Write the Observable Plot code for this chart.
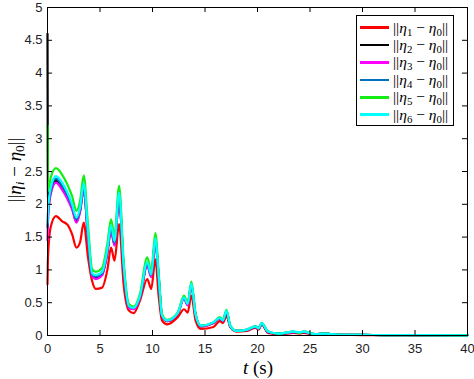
<!DOCTYPE html>
<html><head><meta charset="utf-8">
<script src="https://cdn.jsdelivr.net/npm/d3@7"></script>
<script src="https://cdn.jsdelivr.net/npm/@observablehq/plot@0.6"></script>
<style>
body{margin:0;background:#fff;}
#wrap{position:relative;width:474px;height:379px;overflow:hidden;}
#wrap svg{position:absolute;left:0;top:0;}
.serif{font-family:"Liberation Serif","DejaVu Serif",serif;color:#000;}
#ylab{position:absolute;left:15px;top:170px;transform:translate(-50%,-50%) rotate(-90deg);font-size:19px;white-space:nowrap;}
#xlab{position:absolute;left:258px;top:368px;transform:translate(-50%,-50%);font-size:19px;white-space:nowrap;}
#legend{position:absolute;left:356px;top:15px;width:98px;height:111px;border:1px solid #000;background:#fff;box-sizing:border-box;padding-top:3px;}
.row{height:17.4px;display:flex;align-items:center;}
.sw{width:29px;height:2.5px;margin-left:3px;margin-right:4px;flex:none;}
.lt{font-size:15.5px;white-space:nowrap;}
sub{font-size:70%;vertical-align:-0.25em;line-height:0;}
i{font-style:italic;}
</style></head><body><div id="wrap"></div>
<script>
const time = [0,0.05,0.3,0.8,1.4,1.9,2.35,2.75,3.1,3.45,3.85,4.25,4.6,5.2,5.7,6.05,6.38,6.82,7.25,7.75,8.2,8.8,9.5,9.88,10.27,10.6,10.9,11.4,12.4,13.0,13.35,13.7,14.1,14.6,15.8,16.4,16.7,17.05,17.4,18.0,19.0,19.8,20.1,20.4,21.0,22,23,23.4,24,24.4,25.5,26.5,27,28,30,32,35,40];
const eta1 = [0.78,1.2,1.65,1.82,1.74,1.69,1.54,1.34,1.42,1.72,1.2,0.83,0.71,0.73,1.0,1.34,1.14,1.70,0.78,0.38,0.34,0.53,0.86,0.71,1.16,0.58,0.23,0.17,0.28,0.40,0.35,0.61,0.23,0.10,0.13,0.22,0.19,0.30,0.13,0.06,0.07,0.12,0.09,0.17,0.04,0.02,0.03,0.04,0.03,0.04,0.01,0.02,0.01,0.01,0.005,0.005,0.003,0.002];
const eta2 = [4.6,2.0,2.18,2.36,2.24,2.10,1.94,1.74,1.90,2.24,1.52,0.91,0.87,0.93,1.27,1.62,1.39,2.10,1.03,0.43,0.41,0.58,1.08,0.90,1.44,0.85,0.30,0.22,0.33,0.57,0.47,0.77,0.31,0.14,0.19,0.26,0.22,0.36,0.14,0.07,0.08,0.13,0.10,0.18,0.05,0.03,0.04,0.05,0.04,0.05,0.02,0.03,0.02,0.01,0.01,0.005,0.004,0.003];
const eta3 = [1.45,1.75,2.15,2.33,2.22,2.08,1.92,1.72,1.88,2.22,1.50,0.90,0.86,0.92,1.25,1.60,1.37,2.08,1.02,0.42,0.40,0.57,1.07,0.89,1.42,0.84,0.30,0.22,0.33,0.56,0.46,0.76,0.31,0.14,0.19,0.26,0.22,0.36,0.14,0.07,0.08,0.13,0.10,0.18,0.05,0.03,0.04,0.05,0.04,0.05,0.02,0.03,0.02,0.01,0.01,0.005,0.004,0.003];
const eta4 = [1.65,1.85,2.2,2.39,2.28,2.14,1.97,1.77,1.92,2.28,1.56,0.93,0.90,0.95,1.29,1.65,1.41,2.14,1.06,0.44,0.42,0.59,1.10,0.92,1.46,0.87,0.31,0.23,0.34,0.58,0.48,0.78,0.32,0.15,0.20,0.27,0.23,0.37,0.15,0.07,0.09,0.14,0.11,0.19,0.06,0.03,0.05,0.06,0.04,0.06,0.02,0.03,0.02,0.01,0.01,0.005,0.005,0.003];
const eta5 = [3.2,2.2,2.4,2.55,2.45,2.30,2.12,1.90,2.05,2.44,1.70,1.01,0.97,1.03,1.40,1.77,1.52,2.28,1.14,0.48,0.44,0.63,1.19,0.98,1.56,0.93,0.33,0.24,0.35,0.61,0.50,0.82,0.33,0.15,0.20,0.28,0.24,0.39,0.15,0.07,0.09,0.14,0.11,0.19,0.06,0.03,0.05,0.06,0.04,0.06,0.02,0.03,0.02,0.01,0.01,0.005,0.005,0.003];
const eta6 = [1.72,1.9,2.25,2.43,2.33,2.18,2.0,1.80,1.95,2.32,1.60,0.95,0.92,0.97,1.32,1.68,1.44,2.18,1.08,0.45,0.42,0.60,1.12,0.93,1.48,0.88,0.31,0.23,0.34,0.58,0.48,0.79,0.32,0.15,0.20,0.27,0.23,0.38,0.15,0.07,0.09,0.14,0.11,0.19,0.06,0.03,0.05,0.06,0.05,0.06,0.02,0.03,0.02,0.01,0.01,0.005,0.005,0.003];
const seriesIdx = ["1","2","3","4","5","6"];
const seriesColors = ["#ff0000","#000000","#ff00ff","#0072bd","#14ee14","#00ffff"];
const xTicks = [0,5,10,15,20,25,30,35,40];
const yTicks = [0,0.5,1,1.5,2,2.5,3,3.5,4,4.5,5];
const yTickLabels = ["0","0.5","1","1.5","2","2.5","3","3.5","4","4.5","5"];

const allSeries = [eta1,eta2,eta3,eta4,eta5,eta6];
const xLen = 0.48, yLen = 0.076;

const lineMarks = allSeries.map((vals,k) =>
  Plot.line(time.map((t,i)=>({t, v: vals[i]})), {x:"t", y:"v", stroke: seriesColors[k], strokeWidth: 2.2, curve:"monotone-x"}));

const chart = Plot.plot({
  width: 474, height: 379,
  marginLeft: 47, marginRight: 7, marginTop: 7, marginBottom: 44,
  style: {fontFamily: "'Liberation Sans', Arial, sans-serif", fontSize: "13px", background: "transparent"},
  x: {domain: [0,40]},
  y: {domain: [0,5]},
  marks: [
    ...lineMarks,
    Plot.frame({stroke: "#000", strokeWidth: 1}),
    Plot.ruleX(xTicks, {x: d=>d, y1: 0, y2: yLen, stroke:"#000"}),
    Plot.ruleX(xTicks, {x: d=>d, y1: 5 - yLen, y2: 5, stroke:"#000"}),
    Plot.ruleY(yTicks, {y: d=>d, x1: 0, x2: xLen, stroke:"#000"}),
    Plot.ruleY(yTicks, {y: d=>d, x1: 40 - xLen, x2: 40, stroke:"#000"}),
    Plot.axisX(xTicks, {tickSize: 0, tickPadding: 8, label: null, fill: "#222"}),
    Plot.axisY(yTicks, {tickSize: 0, tickPadding: 5, label: null, fill: "#222", tickFormat: d => yTickLabels[yTicks.indexOf(d)]})
  ]
});
const wrap = document.getElementById("wrap");
wrap.appendChild(chart);

const yl = document.createElement("div");
yl.id = "ylab"; yl.className = "serif";
yl.innerHTML = "||<i>η<sub>i</sub></i> − <i>η</i><sub>0</sub>||";
wrap.appendChild(yl);
const xl = document.createElement("div");
xl.id = "xlab"; xl.className = "serif";
xl.innerHTML = "<i>t</i> (s)";
wrap.appendChild(xl);

const lg = document.createElement("div");
lg.id = "legend";
seriesIdx.forEach((s,k)=>{
  const r = document.createElement("div"); r.className = "row";
  const sw = document.createElement("div"); sw.className = "sw"; sw.style.background = seriesColors[k];
  const tx = document.createElement("div"); tx.className = "lt serif";
  tx.innerHTML = "||<i>η</i><sub>" + s + "</sub> − <i>η</i><sub>0</sub>||";
  r.appendChild(sw); r.appendChild(tx); lg.appendChild(r);
});
wrap.appendChild(lg);
</script></body></html>
